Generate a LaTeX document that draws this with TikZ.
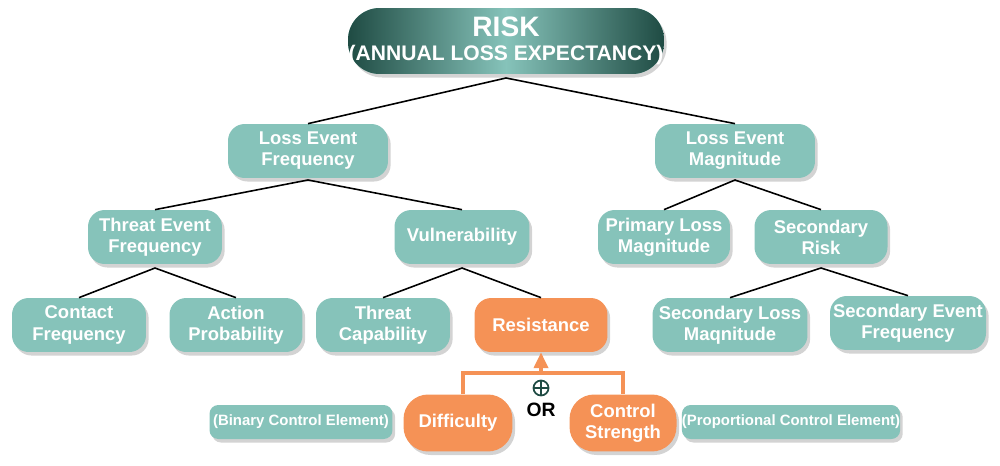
\documentclass[tikz,border=0pt]{standalone}
\usepackage{fontspec}
\setmainfont{Liberation Sans}
\usetikzlibrary{shadows,arrows.meta}
\definecolor{teal1}{HTML}{86C3BA}
\definecolor{org}{HTML}{F59256}
\definecolor{dk}{HTML}{1F4B43}
\begin{document}
\begin{tikzpicture}[x=0.02cm,y=-0.02cm,
 pill/.style={rounded corners=9.5pt,fill=teal1,text=white,font=\bfseries\fontsize{10.5}{12}\selectfont,align=center,inner sep=0pt,drop shadow={shadow xshift=1.5pt,shadow yshift=-2pt,opacity=0.35}},
 opill/.style={pill,fill=org},
 tag/.style={pill,rounded corners=5pt,font=\bfseries\fontsize{8.5}{10}\selectfont},
 ln/.style={black,line width=0.9pt}]
\useasboundingbox (0,0) rectangle (1000,466);
\node[pill,minimum width=6.32cm,minimum height=1.32cm,rounded corners=18pt,left color=dk,right color=dk,middle color=teal1,font=\bfseries\fontsize{12}{14}\selectfont] (risk) at (506,41) {{\fontsize{16}{16}\selectfont RISK}\\(ANNUAL LOSS EXPECTANCY)};
\node[pill,minimum width=3.2cm,minimum height=1.08cm] (lef) at (308,151) {Loss Event\\Frequency};
\node[pill,minimum width=3.2cm,minimum height=1.08cm] (lem) at (735,151) {Loss Event\\Magnitude};
\node[pill,minimum width=2.68cm,minimum height=1.08cm] (tef) at (155,237) {Threat Event\\Frequency};
\node[pill,minimum width=2.7cm,minimum height=1.08cm] (vul) at (462,237) {Vulnerability};
\node[pill,minimum width=2.64cm,minimum height=1.08cm] (plm) at (664,237) {Primary Loss\\Magnitude};
\node[pill,minimum width=2.66cm,minimum height=1.08cm] (sr) at (821,237) {Secondary\\Risk};
\node[pill,minimum width=2.68cm,minimum height=1.08cm] (cf) at (79,325) {Contact\\Frequency};
\node[pill,minimum width=2.66cm,minimum height=1.08cm] (ap) at (236,325) {Action\\Probability};
\node[pill,minimum width=2.68cm,minimum height=1.08cm] (tc) at (383,325) {Threat\\Capability};
\node[opill,minimum width=2.66cm,minimum height=1.08cm] (res) at (541,325) {Resistance};
\node[pill,minimum width=3.1cm,minimum height=1.08cm] (slm) at (730,325) {Secondary Loss\\Maqnitude};
\node[pill,minimum width=3.12cm,minimum height=1.08cm] (sef) at (908,323) {Secondary Event\\Frequency};
\node[tag,minimum width=3.66cm,minimum height=0.68cm] (bin) at (301,422) {(Binary Control Element)};
\node[opill,minimum width=2.18cm,minimum height=1.14cm,rounded corners=14pt] (dif) at (458,423) {Difficulty};
\node[opill,minimum width=2.14cm,minimum height=1.14cm,rounded corners=14pt] (cs) at (623,423) {Control\\Strength};
\node[tag,minimum width=3.96cm,minimum height=0.68cm] (pro) at (791,422) {(Proportional Control Element)};
\coordinate (ra) at (506,78);
\draw[ln] (lef.north) -- (ra) -- (lem.north);
\coordinate (la) at (308,180);
\draw[ln] (tef.north) -- (la) -- (vul.north);
\coordinate (ta) at (155,268);
\draw[ln] (cf.north) -- (ta) -- (ap.north);
\coordinate (va) at (462,268);
\draw[ln] (tc.north) -- (va) -- (res.north);
\coordinate (ma) at (735,180);
\draw[ln] (plm.north) -- (ma) -- (sr.north);
\coordinate (sa) at (821,268);
\draw[ln] (slm.north) -- (sa) -- (sef.north);
\coordinate (bl) at (463,373);
\coordinate (br) at (623,373);
\coordinate (bm) at (541,373);
\draw[org,line width=2pt] (dif.north -| bl) -- (bl) -- (br) -- (cs.north);
\draw[org,line width=2pt,-{Triangle[length=9pt,width=8pt]}] (bm) -- (res.south);
\node[draw=dk,circle,line width=1pt,minimum size=0.3cm,inner sep=0pt,path picture={\draw[dk,line width=0.8pt] (path picture bounding box.north) -- (path picture bounding box.south) (path picture bounding box.west) -- (path picture bounding box.east);}] (xo) at (541,388) {};
\node[font=\bfseries\fontsize{11}{12}\selectfont] (or) at (541,410) {OR};
\end{tikzpicture}
\end{document}
